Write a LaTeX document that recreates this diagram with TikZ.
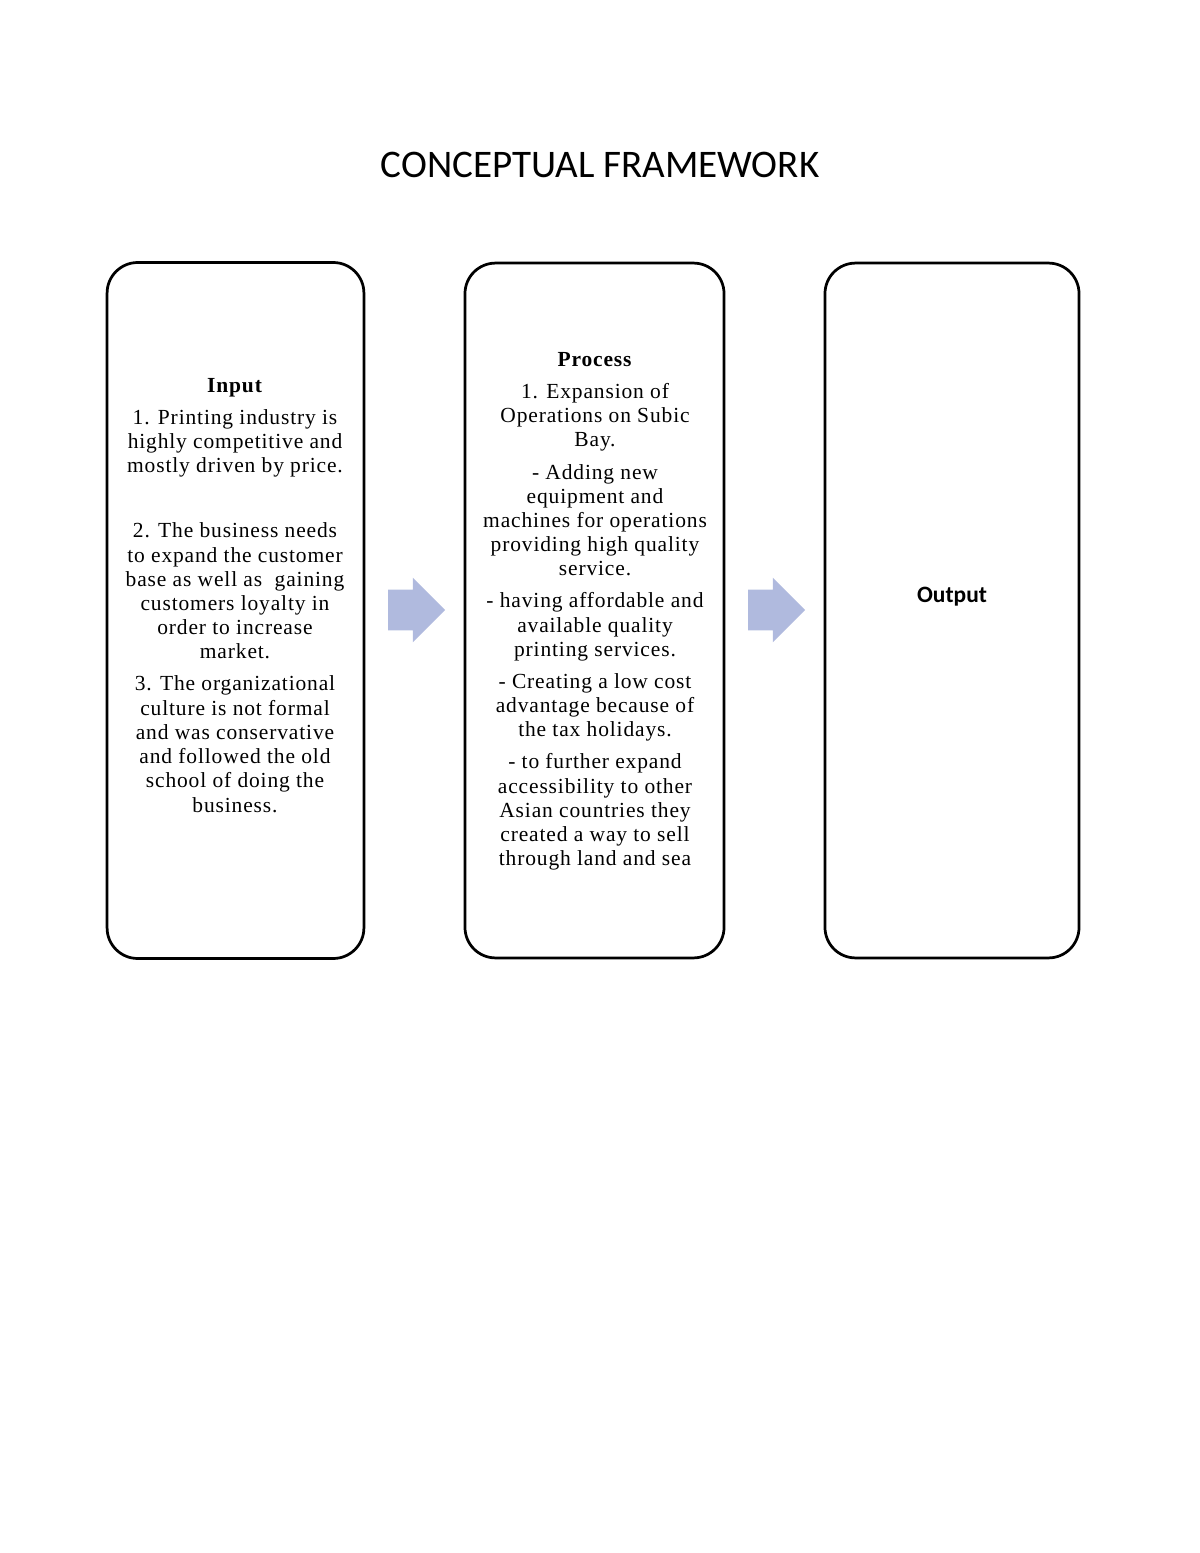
\documentclass[tikz,border=0pt]{standalone}
\usepackage{fontspec}
\usepackage{xcolor}
\usetikzlibrary{shapes.arrows}
\setmainfont{Liberation Serif}
\newfontfamily\bodyfont[LetterSpace=4]{Liberation Serif}
\newfontfamily\titlefont{Carlito}
\definecolor{arrowblue}{RGB}{176,186,222}

\tikzset{
  framebox/.style={rectangle, draw, line width=1.4pt, rounded corners=0.55cm, minimum width=4.62cm, minimum height=12.52cm},
  bodytext/.style={align=center, inner sep=0pt, anchor=north, font=\bodyfont\fontsize{11}{12.4}\selectfont},
  flowarrow/.style={single arrow, fill=arrowblue, draw=none, inner xsep=0pt, inner ysep=0.36cm, single arrow head extend=0.216cm, minimum height=1.025cm}
}

\begin{document}
\begin{tikzpicture}[x=0.01799cm, y=-0.01799cm]
\useasboundingbox (0,0) rectangle (1200,1553);
\node[anchor=base, font=\titlefont\fontsize{20}{24}\selectfont] (title) at (600,178) {CONCEPTUAL FRAMEWORK};

\node[framebox] (input) at (235.5,610.5) {};
\node[framebox, minimum width=4.66cm, minimum height=12.5cm] (process) at (594.5,610.5) {};
\node[framebox, minimum width=4.57cm, minimum height=12.5cm] (output) at (952,610.5) {};

\node[bodytext] (inputtext) at (235,378) {\textbf{Input}\\[4pt]
1. Printing industry is\\ highly competitive and\\ mostly driven by price.\\[20.8pt]
2. The business needs\\ to expand the customer\\ base as well as \ gaining\\ customers loyalty in\\ order to increase\\ market.\\[4pt]
3. The organizational\\ culture is not formal\\ and was conservative\\ and followed the old\\ school of doing the\\ business.};

\node[bodytext] (processtext) at (595,352) {\textbf{Process}\\[4pt]
1. Expansion of\\ Operations on Subic\\ Bay.\\[4pt]
- Adding new\\ equipment and\\ machines for operations\\ providing high quality\\ service.\\[4pt]
- having affordable and\\ available quality\\ printing services.\\[4pt]
- Creating a low cost\\ advantage because of\\ the tax holidays.\\[4pt]
- to further expand\\ accessibility to other\\ Asian countries they\\ created a way to sell\\ through land and sea};

\node[anchor=base, font=\titlefont\bfseries\fontsize{12}{14}\selectfont] (outputtext) at (952,602) {Output};

\node[flowarrow] (arrowA) at (406.5,610) {};
\node[flowarrow] (arrowB) at (766.5,610) {};
\end{tikzpicture}
\end{document}
